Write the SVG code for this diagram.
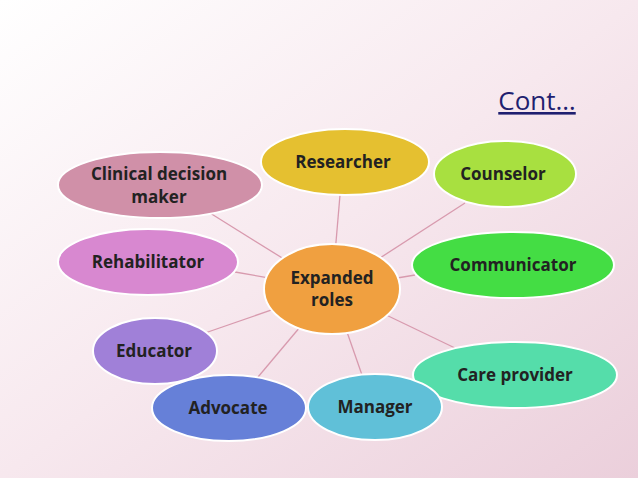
<svg xmlns="http://www.w3.org/2000/svg" width="638" height="478" viewBox="0 0 638 478">
<defs>
<linearGradient id="bg" x1="0" y1="0" x2="1" y2="1">
<stop offset="0" stop-color="#ffffff"/><stop offset="0.5" stop-color="#f7e8ee"/><stop offset="1" stop-color="#ebcfdb"/>
</linearGradient>
<style>
.n{stroke:#ffffff;stroke-width:2}
.t{font-family:"Open Sans","DejaVu Sans",sans-serif;font-weight:bold;font-size:17px;fill:#222;text-anchor:middle}
.c line{stroke:#d89aae;stroke-width:1.3}
</style>
</defs>
<rect width="638" height="478" fill="url(#bg)"/>
<text x="537" y="110" font-family="Open Sans, DejaVu Sans, sans-serif" font-size="26" fill="#1f1f70" text-anchor="middle" text-decoration="underline">Cont…</text>
<g class="c">
<line x1="332" y1="289" x2="340" y2="195"/>
<line x1="332" y1="289" x2="465" y2="203"/>
<line x1="332" y1="289" x2="415" y2="275"/>
<line x1="332" y1="289" x2="455" y2="348"/>
<line x1="332" y1="289" x2="362" y2="375"/>
<line x1="332" y1="289" x2="258" y2="377"/>
<line x1="332" y1="289" x2="205" y2="333"/>
<line x1="332" y1="289" x2="235" y2="272"/>
<line x1="332" y1="289" x2="210" y2="213"/>
</g>
<g id="researcher"><ellipse class="n" cx="345" cy="162" rx="84" ry="33" fill="#e5c030"/><text class="t" x="343" y="168">Researcher</text></g>
<g id="counselor"><ellipse class="n" cx="505" cy="174" rx="71" ry="33" fill="#a8e040"/><text class="t" x="503" y="180">Counselor</text></g>
<g id="communicator"><ellipse class="n" cx="513" cy="265" rx="101" ry="33" fill="#44dd44"/><text class="t" x="513" y="271">Communicator</text></g>
<g id="careprovider"><ellipse class="n" cx="515" cy="375" rx="102" ry="33" fill="#55ddaa"/><text class="t" x="515" y="381">Care provider</text></g>
<g id="manager"><ellipse class="n" cx="375" cy="407" rx="67" ry="33" fill="#60c0d8"/><text class="t" x="375" y="413">Manager</text></g>
<g id="advocate"><ellipse class="n" cx="229" cy="408" rx="77" ry="33" fill="#6680d8"/><text class="t" x="228" y="414">Advocate</text></g>
<g id="educator"><ellipse class="n" cx="155" cy="351" rx="62" ry="33" fill="#a080d8"/><text class="t" x="154" y="357">Educator</text></g>
<g id="rehabilitator"><ellipse class="n" cx="148" cy="262" rx="90" ry="33" fill="#d888d0"/><text class="t" x="148" y="268">Rehabilitator</text></g>
<g id="clinical"><ellipse class="n" cx="160" cy="185" rx="102" ry="33" fill="#d090a8"/><text class="t" x="159" y="180">Clinical decision</text><text class="t" x="159" y="203">maker</text></g>
<g id="expanded"><ellipse class="n" cx="332" cy="289" rx="68" ry="45" fill="#f0a040"/><text class="t" x="332" y="284">Expanded</text><text class="t" x="332" y="306">roles</text></g>
</svg>
